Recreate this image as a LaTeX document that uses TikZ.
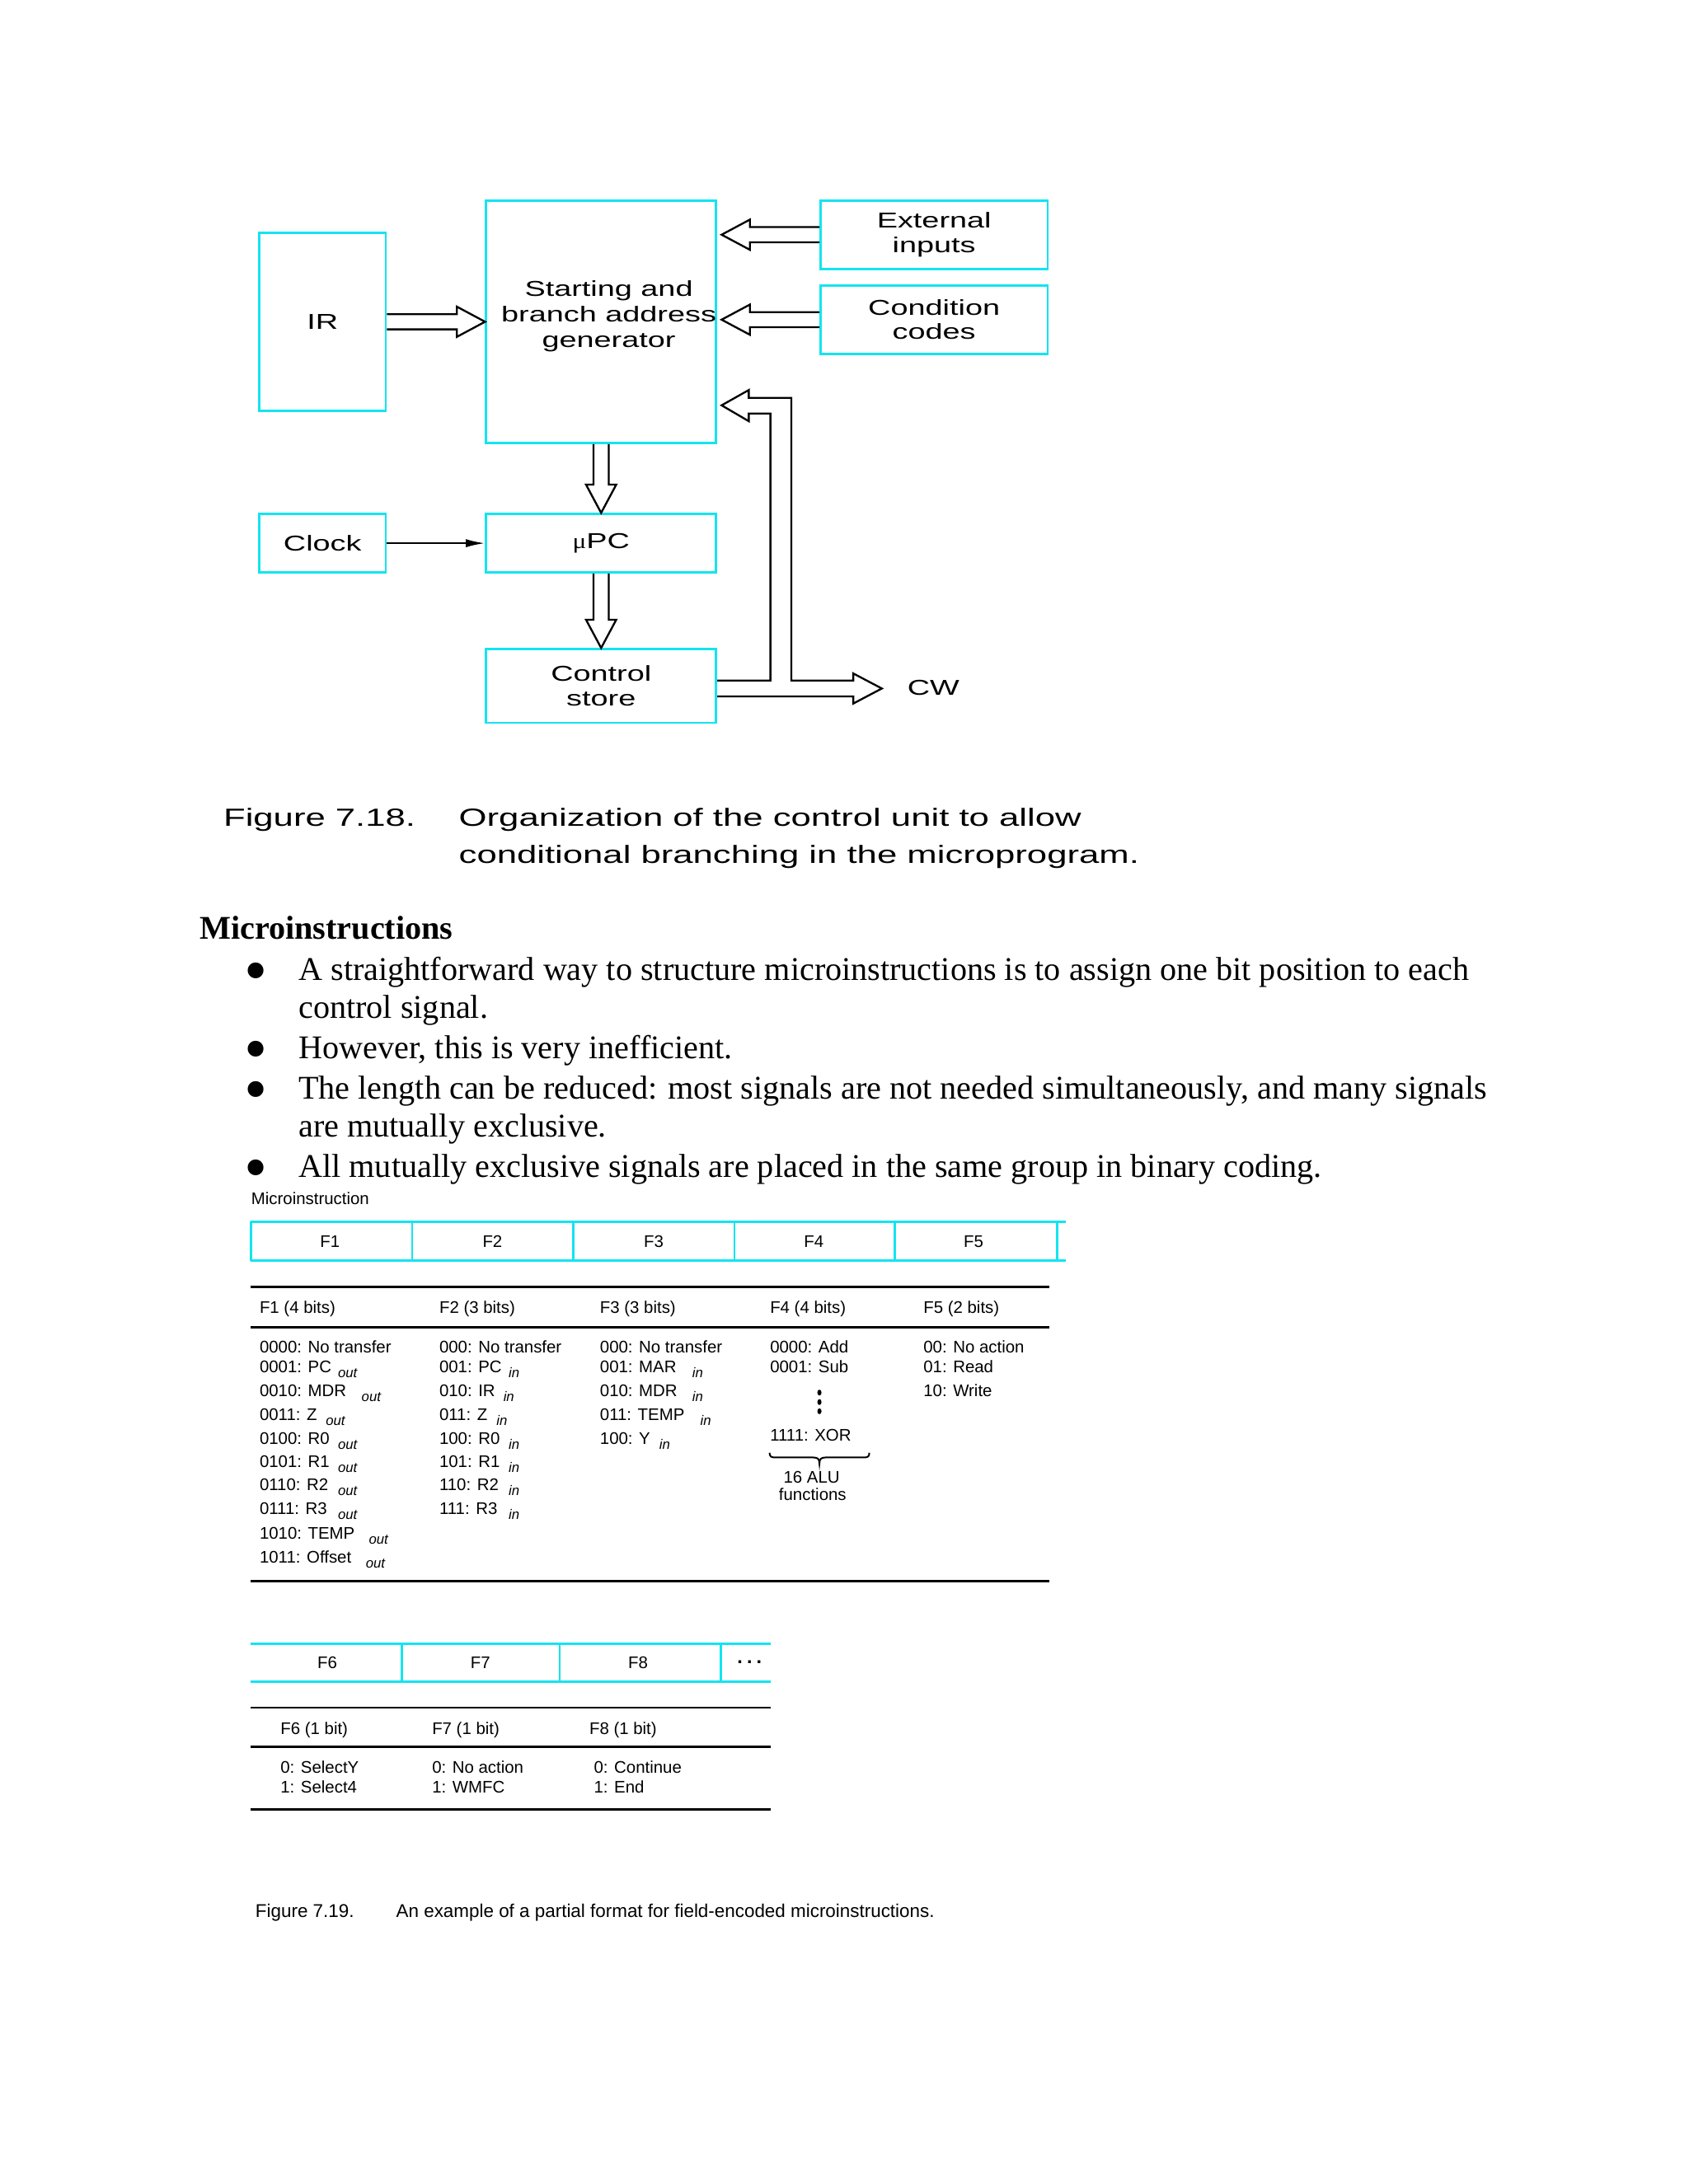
\documentclass[tikz,border=0pt]{standalone}
\usepackage{fontspec}
\setmainfont{Liberation Serif}
\newfontfamily\dgfont[FakeStretch=1.45]{Liberation Sans}
\newfontfamily\dgserif[FakeStretch=1.2]{Liberation Serif}
\newfontfamily\tbfont{Liberation Sans}
\usetikzlibrary{calc,arrows.meta}
\definecolor{cy}{RGB}{20,228,240}
\newlength\ux
\setlength\ux{0.505pt}
% hollow double-line arrows: #1 start, #2 tip
\newcommand\arrR[2]{\draw[arr] let \p1=#1, \p2=#2 in
  (\x1,\y1+2.75pt) -- (\x2-10.25pt,\y1+2.75pt) -- (\x2-10.25pt,\y1+5.48pt) -- (\x2,\y1)
  -- (\x2-10.25pt,\y1-5.48pt) -- (\x2-10.25pt,\y1-2.75pt) -- (\x1,\y1-2.75pt);}
\newcommand\arrL[2]{\draw[arr] let \p1=#1, \p2=#2 in
  (\x1,\y1+2.75pt) -- (\x2+10.25pt,\y1+2.75pt) -- (\x2+10.25pt,\y1+5.48pt) -- (\x2,\y1)
  -- (\x2+10.25pt,\y1-5.48pt) -- (\x2+10.25pt,\y1-2.75pt) -- (\x1,\y1-2.75pt);}
\newcommand\arrD[2]{\draw[arr] let \p1=#1, \p2=#2 in
  (\x1-2.75pt,\y1) -- (\x1-2.75pt,\y2+10.25pt) -- (\x1-5.48pt,\y2+10.25pt) -- (\x1,\y2)
  -- (\x1+5.48pt,\y2+10.25pt) -- (\x1+2.75pt,\y2+10.25pt) -- (\x1+2.75pt,\y1);}
\begin{document}
\begin{tikzpicture}[x=0.505pt,y=-0.505pt,
  cbox/.style={draw=cy, line width=0.8pt, fill=white, inner sep=0pt, align=center,
    font=\dgfont\fontsize{7.8}{8.8}\selectfont},
  dglbl/.style={inner sep=0pt, align=center, font=\dgfont\fontsize{7.8}{9.3}\selectfont},
  arr/.style={draw=black, line width=0.7pt, line join=miter},
  capt/.style={anchor=base west, inner sep=0pt, font=\dgfont\fontsize{9}{13.6}\selectfont},
  body/.style={anchor=base west, inner sep=0pt, font=\fontsize{12}{14}\selectfont},
  bul/.style={anchor=base, inner sep=0pt, text height=0pt, text depth=0pt, font=\fontsize{24}{24}\selectfont},
  tb/.style={anchor=base west, inner sep=0pt, font=\tbfont\fontsize{6.1}{7}\selectfont},
  tbc/.style={anchor=base, inner sep=0pt, font=\tbfont\fontsize{6.1}{7}\selectfont},
  fld/.style={anchor=center, inner sep=0pt, font=\tbfont\fontsize{6.1}{7}\selectfont},
  sub/.style={anchor=base west, inner sep=0pt, font=\tbfont\itshape\fontsize{5}{6}\selectfont},
  rule/.style={line width=0.8pt},
  cyline/.style={draw=cy, line width=0.8pt},
  capn/.style={anchor=base west, inner sep=0pt, font=\tbfont\fontsize{6.7}{8}\selectfont}]
\useasboundingbox (0,0) rectangle (1212,1568);
\fill[white] (0,0) rectangle (1212,1568);

% ---------------- Figure 7.18 ----------------
\node[cbox, minimum width=91*\ux, minimum height=128*\ux] (ir) at (231.5,231) {IR};
\node[cbox, minimum width=165*\ux, minimum height=174*\ux] (start) at (431.5,231) {};
\node[dglbl] (startlbl) at (437,227) {Starting and\\branch address\\generator};
\node[cbox, minimum width=163*\ux, minimum height=49*\ux] (ext) at (670.5,168.5) {External\\inputs};
\node[cbox, minimum width=163*\ux, minimum height=49*\ux] (cond) at (670.5,229.5) {Condition\\codes};
\node[cbox, minimum width=91*\ux, minimum height=42*\ux] (clock) at (231.5,390) {Clock};
\node[cbox, minimum width=165*\ux, minimum height=42*\ux] (upc) at (431.5,390) {{\dgserif μ}PC};
\node[cbox, minimum width=165*\ux, minimum height=53*\ux] (cs) at (431.5,492.5) {Control\\store};
\node[dglbl, anchor=west] (cw) at (651,494) {CW};

\coordinate (fbtip) at ($(start.east)+(3.2,60)$);
\coordinate (cwtip) at (633,494.3);

\arrR{(ir.east)}{(start.west)}
\arrL{(ext.west)}{($(ext.west -| start.east)+(3.2,0)$)}
\arrL{(cond.west)}{($(cond.west -| start.east)+(3.2,0)$)}
\arrD{(start.south)}{(upc.north)}
\arrD{(upc.south)}{(cs.north)}
\draw[line width=0.7pt, -{Latex[length=7pt,width=3pt]}] (clock) -- (upc);
\draw[arr] ($(cs.east)+(0,-3.9)$) -- (553,488.6) -- (553,296.9) -- (537.5,296.9)
  -- (537.5,302.4) -- (fbtip) -- (537.5,280) -- (537.5,285.6) -- (568,285.6)
  -- (568,488.6) -- (612.5,488.6) -- (612.5,483.5) -- (cwtip) -- (612.5,505.1)
  -- (612.5,500) -- ($(cs.east)+(0,7.5)$);

\node[capt] (c18a) at (160,593) {Figure 7.18.};
\node[capt] (c18b) at (329,593) {Organization of the control unit to allow};
\node[capt] (c18c) at (329,620) {conditional branching in the microprogram.};

% ---------------- Text ----------------
\node[body] (head) at (143,674) {\bfseries Microinstructions};
\node[bul] (bu1) at (183.6,712.9) {•};
\node[body] (t1a) at (214,704) {A straightforward way to structure microinstructions is to assign one bit position to each};
\node[body] (t1b) at (214,731) {control signal.};
\node[bul] (bu2) at (183.6,768.9) {•};
\node[body] (t2) at (214,760) {However, this is very inefficient.};
\node[bul] (bu3) at (183.6,797.9) {•};
\node[body] (t3a) at (214,789) {The length can be reduced: most signals are not needed simultaneously, and many signals};
\node[body] (t3b) at (214,816) {are mutually exclusive.};
\node[bul] (bu4) at (183.6,853.9) {•};
\node[body] (t4) at (214,845) {All mutually exclusive signals are placed in the same group in binary coding.};

% ---------------- Figure 7.19 part 1 ----------------
\node[tb] (milbl) at (180,864.8) {Microinstruction};
\draw[cyline] (180,877) -- (764.8,877);
\draw[cyline] (180,905) -- (764.8,905);
\foreach \xx in {180,295.8,411.6,527.2,642.3,758.9} \draw[cyline] (\xx,877) -- (\xx,905);
\node[fld] (f1) at (236.9,891.5) {F1};
\node[fld] (f2) at (353.5,891.5) {F2};
\node[fld] (f3) at (469.2,891.5) {F3};
\node[fld] (f4) at (584.2,891.5) {F4};
\node[fld] (f5) at (698.8,891.5) {F5};

\draw[rule] (180,924) -- (753,924);
\draw[rule] (180,953) -- (753,953);
\draw[rule] (180,1135) -- (753,1135);

\node[tb] (h1) at (186,943) {F1 (4 bits)};
\node[tb] (h2) at (315,943) {F2 (3 bits)};
\node[tb] (h3) at (430.3,943) {F3 (3 bits)};
\node[tb] (h4) at (552.4,943) {F4 (4 bits)};
\node[tb] (h5) at (662.5,943) {F5 (2 bits)};

% F1 column
\node[tb] (a1) at (186,971) {0000: No transfer};
\node[tb] (a2) at (186,985.4) {0001: PC};      \node[sub] (a2s) at (242.2,988.9) {out};
\node[tb] (a3) at (186,1002.5) {0010: MDR};    \node[sub] (a3s) at (259.2,1006) {out};
\node[tb] (a4) at (186,1019.8) {0011: Z};      \node[sub] (a4s) at (233.5,1023.3) {out};
\node[tb] (a5) at (186,1037.2) {0100: R0};     \node[sub] (a5s) at (242.2,1040.7) {out};
\node[tb] (a6) at (186,1053.3) {0101: R1};     \node[sub] (a6s) at (242.2,1056.8) {out};
\node[tb] (a7) at (186,1070) {0110: R2};       \node[sub] (a7s) at (242.2,1073.5) {out};
\node[tb] (a8) at (186,1087.3) {0111: R3};     \node[sub] (a8s) at (242.2,1090.8) {out};
\node[tb] (a9) at (186,1104.9) {1010: TEMP};   \node[sub] (a9s) at (264.4,1108.4) {out};
\node[tb] (a10) at (186,1122.2) {1011: Offset}; \node[sub] (a10s) at (262.2,1125.7) {out};

% F2 column
\node[tb] (b1) at (315,971) {000: No transfer};
\node[tb] (b2) at (315,985.4) {001: PC};   \node[sub] (b2s) at (364.7,988.9) {in};
\node[tb] (b3) at (315,1002.5) {010: IR};  \node[sub] (b3s) at (361,1006) {in};
\node[tb] (b4) at (315,1019.8) {011: Z};   \node[sub] (b4s) at (356,1023.3) {in};
\node[tb] (b5) at (315,1037.2) {100: R0};  \node[sub] (b5s) at (364.7,1040.7) {in};
\node[tb] (b6) at (315,1053.3) {101: R1};  \node[sub] (b6s) at (364.7,1056.8) {in};
\node[tb] (b7) at (315,1070) {110: R2};    \node[sub] (b7s) at (364.7,1073.5) {in};
\node[tb] (b8) at (315,1087.3) {111: R3};  \node[sub] (b8s) at (364.7,1090.8) {in};

% F3 column
\node[tb] (c1) at (430.3,971) {000: No transfer};
\node[tb] (c2) at (430.3,985.4) {001: MAR};   \node[sub] (c2s) at (496.6,988.9) {in};
\node[tb] (c3) at (430.3,1002.5) {010: MDR};  \node[sub] (c3s) at (496.6,1006) {in};
\node[tb] (c4) at (430.3,1019.8) {011: TEMP}; \node[sub] (c4s) at (502.3,1023.3) {in};
\node[tb] (c5) at (430.3,1037.2) {100: Y};    \node[sub] (c5s) at (472.9,1040.7) {in};

% F4 column
\node[tb] (d1) at (552.4,971) {0000: Add};
\node[tb] (d2) at (552.4,985.4) {0001: Sub};
\fill (588.2,999.8) ellipse [x radius=1.5, y radius=2.1];
\fill (588.2,1006.6) ellipse [x radius=1.5, y radius=2.1];
\fill (588.2,1013.2) ellipse [x radius=1.5, y radius=2.1];
\node[tb] (d3) at (552.4,1034.6) {1111: XOR};
\draw[line width=0.6pt] (552.4,1043) .. controls (552.4,1045.6) and (553.5,1046.4) .. (556.5,1046.4)
  -- (584,1046.4) .. controls (587,1046.4) and (588.2,1047.5) .. (588.2,1050.8)
  .. controls (588.2,1047.5) and (589.4,1046.4) .. (592.4,1046.4)
  -- (620,1046.4) .. controls (623,1046.4) and (624,1045.6) .. (624,1043);
\node[tbc] (d4) at (582.6,1065) {16 ALU};
\node[tbc] (d5) at (583.3,1077.3) {functions};

% F5 column
\node[tb] (e1) at (662.5,971) {00: No action};
\node[tb] (e2) at (662.5,985.4) {01: Read};
\node[tb] (e3) at (662.5,1002.5) {10: Write};

% ---------------- Figure 7.19 part 2 ----------------
\draw[cyline] (180,1180) -- (553,1180);
\draw[cyline] (180,1207.4) -- (553,1207.4);
\foreach \xx in {288.6,401.8,517.3} \draw[cyline] (\xx,1180) -- (\xx,1207.4);
\node[fld] (f6) at (234.9,1193.7) {F6};
\node[fld] (f7) at (344.8,1193.7) {F7};
\node[fld] (f8) at (458,1193.7) {F8};
\node[fld, font=\tbfont\bfseries\fontsize{7}{8}\selectfont] (fdots) at (538,1193.2) {.\hspace{1.5pt}.\hspace{1.5pt}.};

\draw[rule] (180,1226) -- (553,1226);
\draw[rule] (180,1254) -- (553,1254);
\draw[rule] (180,1299) -- (553,1299);

\node[tb] (h6) at (201,1245.5) {F6 (1 bit)};
\node[tb] (h7) at (309.8,1245.5) {F7 (1 bit)};
\node[tb] (h8) at (422.7,1245.5) {F8 (1 bit)};
\node[tb] (g1) at (201,1272.8) {0: SelectY};
\node[tb] (g2) at (201,1287.4) {1: Select4};
\node[tb] (g3) at (309.8,1272.8) {0: No action};
\node[tb] (g4) at (309.8,1287.4) {1: WMFC};
\node[tb] (g5) at (426,1272.8) {0: Continue};
\node[tb] (g6) at (426,1287.4) {1: End};

\node[capn] (c19a) at (183,1376.8) {Figure 7.19.};
\node[capn] (c19b) at (284,1376.8) {An example of a partial format for field-encoded microinstructions.};
\end{tikzpicture}
\end{document}
